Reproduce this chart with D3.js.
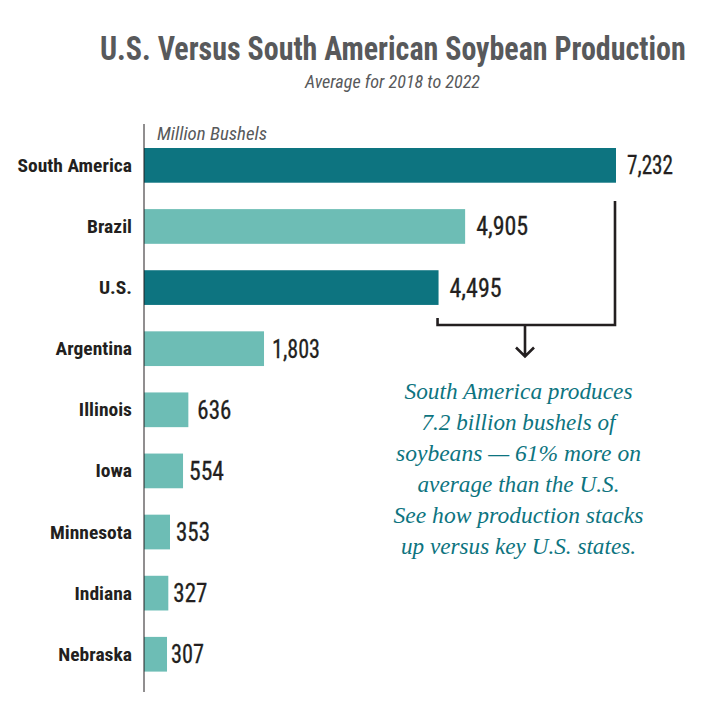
<!DOCTYPE html>
<html><head><meta charset="utf-8">
<script src="https://cdn.jsdelivr.net/npm/d3@7"></script>
<style>html,body{margin:0;padding:0;background:#fff}svg{display:block}</style></head>
<body><svg id="c" width="702" height="709"></svg>
<script>
const categories = ["South America","Brazil","U.S.","Argentina","Illinois","Iowa","Minnesota","Indiana","Nebraska"];
const production = [7232,4905,4495,1803,636,554,353,327,307];
const groups = ["total","part","total","part","part","part","part","part","part"];
const valueLabels = ["7,232","4,905","4,495","1,803","636","554","353","327","307"];
const titleText = "U.S. Versus South American Soybean Production";
const subtitleText = "Average for 2018 to 2022";
const unitText = "Million Bushels";
const noteLines = ["South America produces","7.2 billion bushels of","soybeans — 61% more on","average than the U.S.","See how production stacks","up versus key U.S. states."];

const W=702,H=709, axisX=144;
const narrow="'Liberation Sans Narrow','Roboto Condensed',Roboto,sans-serif";
const svg=d3.select("#c");
// The reference's bars have a small constant lead beyond strict proportion; baseline domain reproduces it.
const x=d3.scaleLinear().domain([-48,7232]).range([axisX,616]);
const y=d3.scaleBand().domain(categories).range([148,671.6]).paddingInner(0.432);
const color=d3.scaleOrdinal().domain(["total","part"]).range(["#0d7480","#6dbdb5"]);
const rows=categories.map((c,i)=>({c,v:production[i],g:groups[i],l:valueLabels[i]}));
const labelGap=[11,11,11,8,9,6,6,5,4];
const labelWidths=[46,52,52,48,34,35,34,34,33];

function squeeze(sel,f){ sel.each(function(){ const n=this.getComputedTextLength(); d3.select(this).attr("textLength",n*f).attr("lengthAdjust","spacingAndGlyphs"); }); }

const title=svg.append("text")
  .attr("font-family",narrow).attr("font-weight",700).attr("font-size",32.5).attr("fill","#58595b").text(titleText);
title.attr("transform",`translate(100,60) scale(${586/title.node().getComputedTextLength()},1)`);
svg.append("text").attr("x",305).attr("y",88)
  .attr("font-family",narrow).attr("font-style","italic").attr("font-size",19).attr("fill","#58595b")
  .attr("textLength",175).attr("lengthAdjust","spacingAndGlyphs").text(subtitleText);
svg.append("text").attr("x",157).attr("y",140).attr("font-family",narrow).attr("font-style","italic")
  .attr("font-size",19).attr("fill","#58595b").attr("textLength",110).attr("lengthAdjust","spacingAndGlyphs").text(unitText);

svg.append("g").selectAll("rect").data(rows).join("rect")
  .attr("x",axisX).attr("y",d=>y(d.c)).attr("width",d=>x(d.v)-axisX).attr("height",y.bandwidth())
  .attr("fill",d=>color(d.g));

svg.append("line").attr("x1",axisX).attr("x2",axisX).attr("y1",124).attr("y2",692)
  .attr("stroke","#231f20").attr("stroke-width",1);

svg.append("g").selectAll("text").data(rows).join("text")
  .attr("x",132).attr("y",d=>y(d.c)+y.bandwidth()/2+6.5).attr("text-anchor","end")
  .attr("font-family",narrow).attr("font-weight",700).attr("font-size",18.5).attr("fill","#231f20").text(d=>d.c)
  .call(squeeze,1.055);

svg.append("g").selectAll("text").data(rows).join("text")
  .attr("x",(d,i)=>x(d.v)+labelGap[i]).attr("y",d=>y(d.c)+y.bandwidth()/2+9)
  .attr("font-family",narrow).attr("font-weight",400).attr("font-size",25.5).attr("fill","#231f20")
  .attr("stroke","#231f20").attr("stroke-width",0.3)
  .attr("textLength",(d,i)=>labelWidths[i]).attr("lengthAdjust","spacingAndGlyphs").text(d=>d.l);

const bracket=d3.path();
bracket.moveTo(x(7232)-1,201);bracket.lineTo(x(7232)-1,325);bracket.lineTo(x(4495)-1,325);bracket.lineTo(x(4495)-1,318);
bracket.moveTo(525,325);bracket.lineTo(525,357);
bracket.moveTo(516,347.5);bracket.lineTo(525,356.5);bracket.lineTo(534,347.5);
svg.append("path").attr("d",bracket.toString()).attr("fill","none").attr("stroke","#231f20").attr("stroke-width",2.6);

const noteWidths=[228,194,245,202,250,235];
svg.append("g").selectAll("text").data(noteLines).join("text")
  .attr("x",518.5).attr("y",(d,i)=>399+i*30.9).attr("text-anchor","middle")
  .attr("font-family","'Liberation Serif',serif").attr("font-style","italic").attr("font-size",22.5).attr("fill","#0d7480")
  .attr("textLength",(d,i)=>noteWidths[i]).attr("lengthAdjust","spacingAndGlyphs").text(d=>d);
</script></body></html>
